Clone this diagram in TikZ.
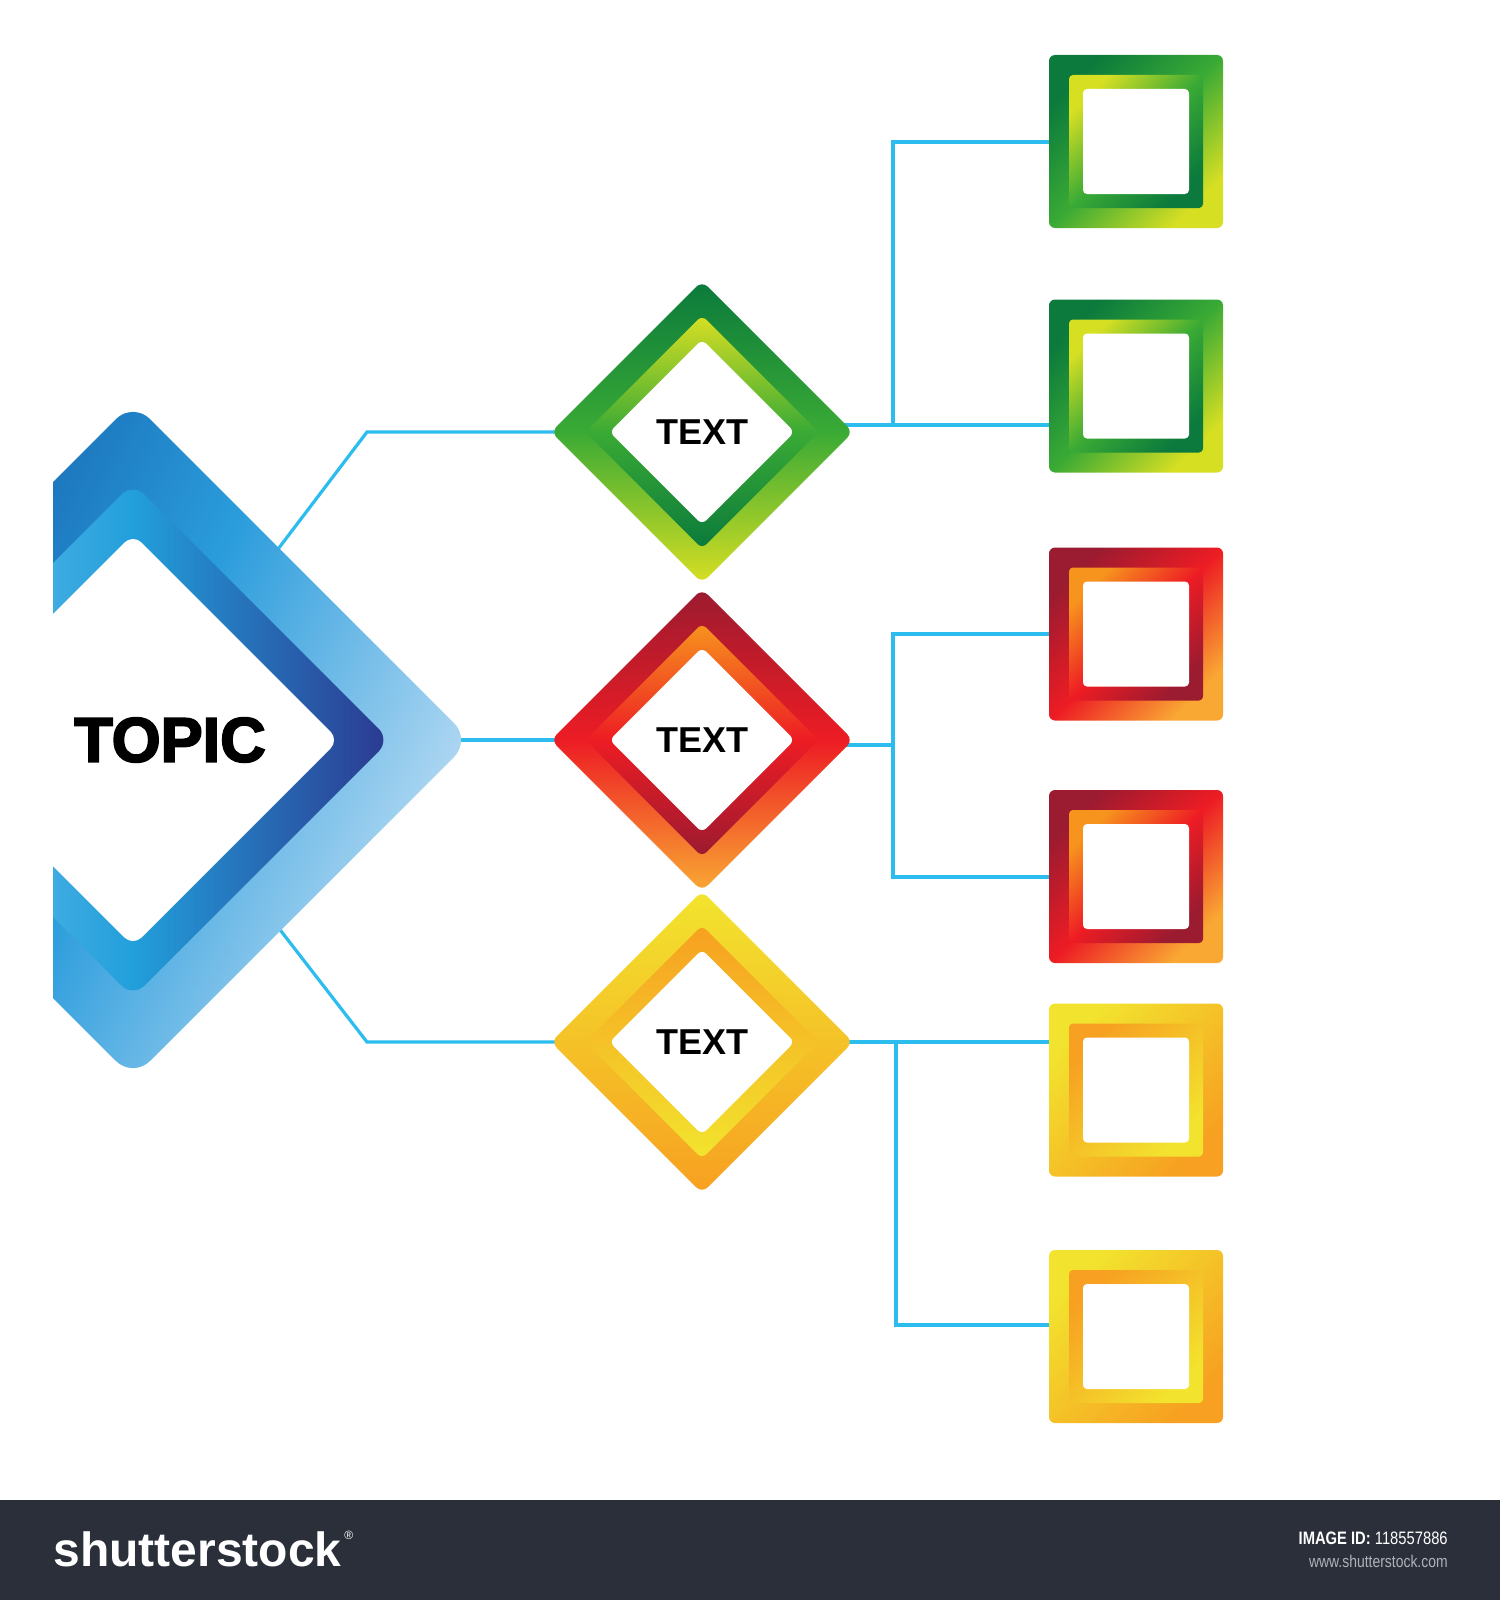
\documentclass[tikz,border=0pt]{standalone}
\usepackage{fontspec}
\setmainfont{Liberation Sans}
\newfontfamily\heavy{Liberation Sans Bold}[FakeBold=3]
\usetikzlibrary{shapes.geometric,calc}
\pgfdeclarelayer{base}
\pgfdeclarelayer{bg}
\pgfsetlayers{base,bg,main}
\definecolor{gdark}{HTML}{0B7A3C}
\definecolor{gmid}{HTML}{3AAA35}
\definecolor{gyel}{HTML}{D7DF23}
\definecolor{rdark}{HTML}{9B1B30}
\definecolor{rmid}{HTML}{ED1C24}
\definecolor{rorange}{HTML}{F7941D}
\definecolor{rlight}{HTML}{F9A833}
\definecolor{yyel}{HTML}{F2E42E}
\definecolor{yorange}{HTML}{F7A021}
\definecolor{tl1}{HTML}{1158A6}
\definecolor{tm1}{HTML}{2A9CDC}
\definecolor{tr1}{HTML}{BCDDF4}
\definecolor{tl2}{HTML}{7CC6EE}
\definecolor{tm2}{HTML}{229FDB}
\definecolor{tr2}{HTML}{2B3990}
\definecolor{linkc}{HTML}{2CBDEE}
\definecolor{barc}{HTML}{2A2F3A}
\definecolor{urlc}{HTML}{AEB2B8}
\newcommand{\sqnode}[5]{%
  \node[sq,#4] (#1) at (#2,#3) {};
  \path[#5,rounded corners=2pt] ([shift={(20,20)}]#1.north west) rectangle ([shift={(-20,-20)}]#1.south east);
  \path[fill=white,rounded corners=2pt] ([shift={(34,34)}]#1.north west) rectangle ([shift={(-34,-34)}]#1.south east);
}
\begin{document}
\begin{tikzpicture}[x=0.5pt,y=-0.5pt,
  dia/.style={diamond,aspect=1,inner sep=0pt,outer sep=0pt,draw=none},
  sq/.style={rectangle,inner sep=0pt,outer sep=0pt,minimum width=87pt,minimum height=86.5pt,rounded corners=3pt},
  link/.style={draw=linkc,line width=2pt},
  tlink/.style={draw=linkc,line width=1.6pt},
  txt/.style={font=\bfseries\fontsize{18}{20}\selectfont},
  gout/.style={top color=gdark,bottom color=gyel,middle color=gmid},
  gin/.style={top color=gyel,bottom color=gdark,middle color=gmid},
  rout/.style={top color=rdark,bottom color=rlight,middle color=rmid},
  rin/.style={top color=rorange,bottom color=rdark,middle color=rmid},
  yout/.style={top color=yyel,bottom color=yorange},
  yin/.style={top color=yorange,bottom color=yyel},
  tout/.style={left color=tl1,right color=tr1,middle color=tm1,shading angle=65},
  tmid/.style={left color=tl2,right color=tr2,middle color=tm2}]
\begin{pgfonlayer}{base}
\fill[white] (0,0) rectangle (1500,1600);
\end{pgfonlayer}
\useasboundingbox (0,0) rectangle (1500,1600);

% topic diamond
\begin{scope}
\clip (53,0) rectangle (1500,1600);
\node[dia,minimum size=338pt,rounded corners=12pt,tout] (t) at (133,740) {};
\node[dia,minimum size=257pt,rounded corners=8pt,tmid] (t2) at (t) {};
\node[dia,minimum size=206pt,rounded corners=6pt,fill=white] (t3) at (t) {};
\end{scope}
\node[font=\heavy\fontsize{31.5}{32}\selectfont,inner sep=0pt] (topic) at (170,740) {TOPIC};

% text diamonds
\node[dia,minimum size=151pt,rounded corners=4pt,gout] (g) at (702,432) {};
\node[dia,minimum size=116.5pt,rounded corners=3pt,gin] (g2) at (g) {};
\node[dia,minimum size=92.5pt,rounded corners=3pt,fill=white,txt] (g3) at (g) {TEXT};

\node[dia,minimum size=151pt,rounded corners=4pt,rout] (r) at (702,740) {};
\node[dia,minimum size=116.5pt,rounded corners=3pt,rin] (r2) at (r) {};
\node[dia,minimum size=92.5pt,rounded corners=3pt,fill=white,txt] (r3) at (r) {TEXT};

\node[dia,minimum size=151pt,rounded corners=4pt,yout] (y) at (702,1042) {};
\node[dia,minimum size=116.5pt,rounded corners=3pt,yin] (y2) at (y) {};
\node[dia,minimum size=92.5pt,rounded corners=3pt,fill=white,txt] (y3) at (y) {TEXT};

% boxes
\sqnode{b1}{1136}{141.5}{gout,shading angle=45}{gin,shading angle=45}
\sqnode{b2}{1136}{386}{gout,shading angle=45}{gin,shading angle=45}
\sqnode{b3}{1136}{634}{rout,shading angle=45}{rin,shading angle=45}
\sqnode{b4}{1136}{876.5}{rout,shading angle=45}{rin,shading angle=45}
\sqnode{b5}{1136}{1090}{yout,shading angle=45}{yin,shading angle=45}
\sqnode{b6}{1136}{1336.5}{yout,shading angle=45}{yin,shading angle=45}

% connectors
\begin{pgfonlayer}{bg}
\coordinate (tu) at (367,432);
\coordinate (tl) at (367,1042);
\draw[tlink] (t.center) -- (tu) -- (g.center);
\draw[tlink] (t.center) -- (r.center);
\draw[tlink] (t.center) -- (tl) -- (y.center);
\coordinate (gj) at (893,425);
\draw[link] (g.center |- gj) -- (gj -| b2.west);
\draw[link] (gj) |- (b1.west);
\coordinate (rj) at (893,745);
\draw[link] (r.center |- rj) -- (rj);
\draw[link] (b3.west) -| (rj) |- (b4.west);
\coordinate (yj) at (896,1042);
\coordinate (yk) at (896,1325);
\draw[link] (y.center |- yj) -- (yj -| b5.west);
\draw[link] (yj) -- (yk) -- (yk -| b6.west);
\end{pgfonlayer}

% footer bar
\fill[barc] (0,1500) rectangle (1500,1600);
\node[anchor=base west,inner sep=0pt,text=white,font=\bfseries\fontsize{24}{26}\selectfont] (logo) at (53,1566) {shutterstock};
\node[anchor=north west,inner sep=0pt,text=white,font=\fontsize{6}{7}\selectfont] (reg) at ([xshift=1pt]logo.north east) {®};
\node[anchor=base east,inner sep=0pt,text=white,xscale=0.82,font=\fontsize{9}{10}\selectfont] (iid) at (1448,1544) {\textbf{IMAGE ID:} 118557886};
\node[anchor=base east,inner sep=0pt,text=urlc,xscale=0.82,font=\fontsize{8.5}{10}\selectfont] (url) at (1448,1567) {www.shutterstock.com};
\end{tikzpicture}
\end{document}
